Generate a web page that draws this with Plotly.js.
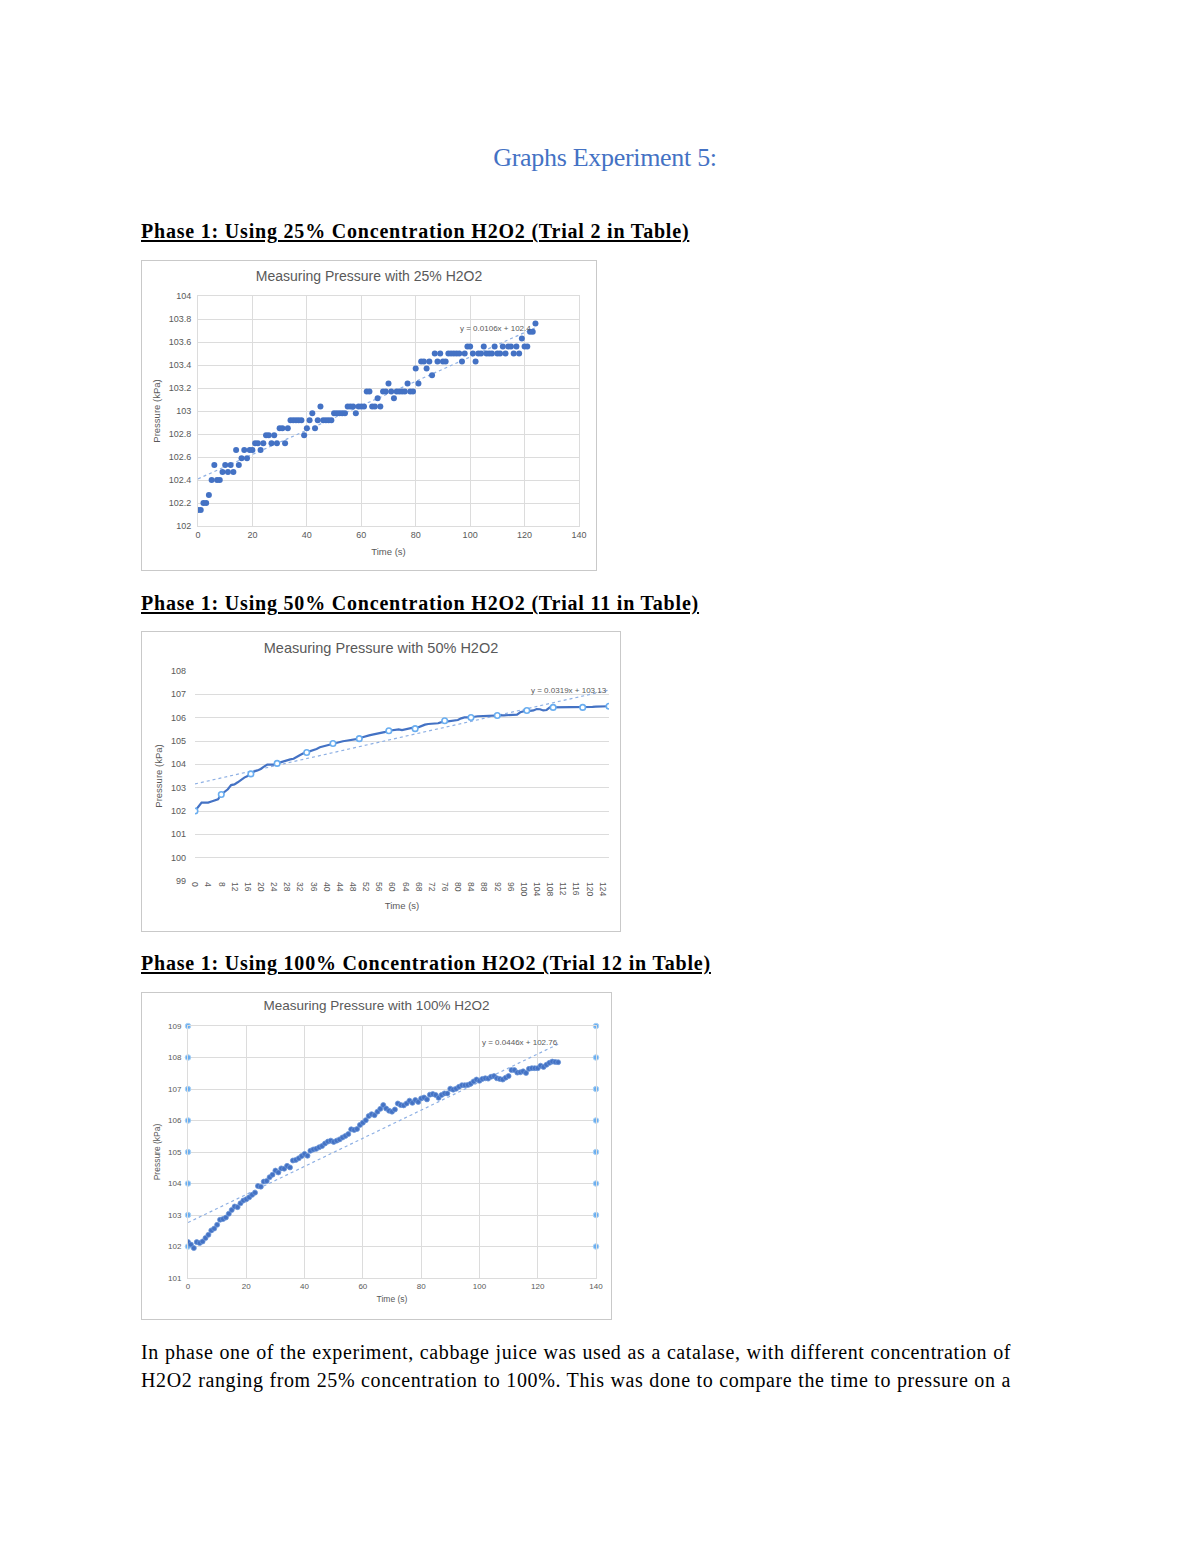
<!DOCTYPE html>
<html>
<head>
<meta charset="utf-8">
<script src="https://cdn.plot.ly/plotly-3.0.1.min.js"></script>
<style>
  html, body { margin: 0; padding: 0; background: #fff; }
  body { width: 1200px; height: 1553px; position: relative; overflow: hidden; }
  .doc { position: absolute; font-family: 'Liberation Serif', 'Times New Roman', serif; color: #000; white-space: nowrap; }
  .title { left: 0; width: 1210px; top: 143px; text-align: center; font-size: 26px; color: #4472c4; letter-spacing: -0.3px; }
  .phase { left: 141px; font-size: 20px; font-weight: bold; text-decoration: underline; text-decoration-thickness: 2px; text-underline-offset: 2px; letter-spacing: 0.8px; }
  .line { left: 141px; width: 870px; font-size: 20px; letter-spacing: 0.6px; text-align: justify; text-align-last: justify; }
  .chart { position: absolute; outline: 1px solid #c9c9c9; outline-offset: -1px; }
</style>
</head>
<body>

<div class="doc title">Graphs Experiment 5:</div>

<div class="doc phase" style="top:220px">Phase 1: Using 25% Concentration H2O2 (Trial 2 in Table)</div>
<div id="chart25" class="chart" style="left:141px; top:260px; width:456px; height:311px"></div>

<div class="doc phase" style="top:592px">Phase 1: Using 50% Concentration H2O2 (Trial 11 in Table)</div>
<div id="chart50" class="chart" style="left:141px; top:631px; width:480px; height:301px"></div>

<div class="doc phase" style="top:952px">Phase 1: Using 100% Concentration H2O2 (Trial 12 in Table)</div>
<div id="chart100" class="chart" style="left:141px; top:992px; width:471px; height:328px"></div>

<div class="doc line" style="top:1341px">In phase one of the experiment, cabbage juice was used as a catalase, with different concentration of</div>
<div class="doc line" style="top:1369px">H2O2 ranging from 25% concentration to 100%. This was done to compare the time to pressure on a</div>

<script>
// pressure readings, one per second starting at t = 0 s (kPa)
const pressure25 = [
  102.14, 102.14, 102.2, 102.2, 102.27, 102.4, 102.53, 102.4, 102.4, 102.47,
  102.53, 102.47, 102.53, 102.47, 102.66, 102.53, 102.59, 102.66, 102.59, 102.66,
  102.66, 102.72, 102.72, 102.66, 102.72, 102.79, 102.79, 102.72, 102.79, 102.72,
  102.85, 102.85, 102.72, 102.85, 102.92, 102.92, 102.92, 102.92, 102.92, 102.79,
  102.85, 102.92, 102.98, 102.85, 102.92, 103.04, 102.92, 102.92, 102.92, 102.92,
  102.98, 102.98, 102.98, 102.98, 102.98, 103.04, 103.04, 103.04, 102.98, 103.04,
  103.04, 103.04, 103.17, 103.17, 103.04, 103.04, 103.11, 103.04, 103.17, 103.17,
  103.24, 103.17, 103.11, 103.17, 103.17, 103.17, 103.17, 103.24, 103.17, 103.17,
  103.37, 103.24, 103.43, 103.43, 103.37, 103.43, 103.31, 103.5, 103.43, 103.5,
  103.43, 103.43, 103.5, 103.5, 103.5, 103.5, 103.5, 103.43, 103.5, 103.56,
  103.56, 103.5, 103.43, 103.5, 103.5, 103.56, 103.5, 103.5, 103.5, 103.56,
  103.5, 103.5, 103.56, 103.5, 103.56, 103.56, 103.5, 103.56, 103.5, 103.63,
  103.56, 103.56, 103.69, 103.69, 103.76
];

const pressure50 = [
  102.0, 102.19, 102.36, 102.36, 102.36, 102.41, 102.47, 102.5, 102.71, 102.83,
  102.93, 103.11, 103.14, 103.23, 103.34, 103.43, 103.5, 103.59, 103.69, 103.74,
  103.8, 103.9, 103.99, 103.99, 103.99, 104.04, 104.09, 104.11, 104.17, 104.21,
  104.24, 104.33, 104.4, 104.47, 104.51, 104.57, 104.61, 104.66, 104.73, 104.77,
  104.8, 104.84, 104.89, 104.93, 104.96, 104.99, 105.01, 105.03, 105.04, 105.07,
  105.1, 105.16, 105.21, 105.24, 105.27, 105.3, 105.31, 105.33, 105.39, 105.44,
  105.46, 105.49, 105.5, 105.47, 105.5, 105.53, 105.56, 105.53, 105.59, 105.66,
  105.7, 105.73, 105.74, 105.74, 105.76, 105.81, 105.87, 105.84, 105.87, 105.9,
  105.9, 105.97, 106.01, 106.01, 106.01, 106.04, 106.06, 106.07, 106.07, 106.09,
  106.09, 106.09, 106.09, 106.1, 106.1, 106.11, 106.11, 106.13, 106.13, 106.23,
  106.27, 106.31, 106.29, 106.31, 106.37, 106.36, 106.31, 106.33, 106.44, 106.44,
  106.44, 106.46, 106.44, 106.46, 106.44, 106.46, 106.44, 106.43, 106.44, 106.46,
  106.44, 106.46, 106.47, 106.47, 106.47, 106.47, 106.49
];
// points that carry a visible marker on the 50% line
const markerIdx50 = [0, 8, 17, 25, 34, 42, 50, 59, 67, 76, 84, 92, 101, 109, 118, 126];
const tickVals50 = [0, 4, 8, 12, 16, 20, 24, 28, 32, 36, 40, 44, 48, 52, 56, 60, 64,
  68, 72, 76, 80, 84, 88, 92, 96, 100, 104, 108, 112, 116, 120, 124];

const pressure100 = [
  102.14, 102.06, 101.95, 102.14, 102.11, 102.16, 102.27, 102.37, 102.51, 102.57,
  102.69, 102.85, 102.87, 102.92, 103.04, 103.16, 103.27, 103.25, 103.37, 103.46,
  103.5, 103.56, 103.64, 103.71, 103.92, 103.9, 104.06, 104.08, 104.2, 104.28,
  104.41, 104.35, 104.48, 104.47, 104.56, 104.51, 104.73, 104.75, 104.8, 104.87,
  104.94, 104.88, 105.04, 105.08, 105.1, 105.15, 105.19, 105.27, 105.33, 105.36,
  105.32, 105.36, 105.4, 105.46, 105.51, 105.57, 105.72, 105.7, 105.73, 105.86,
  105.93, 106.01, 106.14, 106.2, 106.17, 106.28, 106.37, 106.49, 106.38, 106.31,
  106.28, 106.35, 106.54, 106.49, 106.48, 106.54, 106.63, 106.56, 106.65, 106.59,
  106.7, 106.73, 106.67, 106.82, 106.84, 106.81, 106.72, 106.81, 106.86, 106.86,
  107.01, 106.98, 107.01, 107.07, 107.12, 107.12, 107.13, 107.17, 107.24, 107.3,
  107.26, 107.32, 107.34, 107.33, 107.39, 107.41, 107.34, 107.32, 107.3, 107.36,
  107.41, 107.6, 107.6, 107.52, 107.53, 107.56, 107.51, 107.64, 107.66, 107.66,
  107.66, 107.74, 107.7, 107.77, 107.83, 107.87, 107.86, 107.85
];
// stray second series sitting on both edges of the 100% chart
const edgeTimes100 = [0, 140];
const edgeLevels100 = [102, 103, 104, 105, 106, 107, 108, 109];

// linear trendlines as printed on the charts
const trend25 = { slope: 0.0106, intercept: 102.41, label: 'y = 0.0106x + 102.4' };
const trend50 = { slope: 0.0319, intercept: 103.13, label: 'y = 0.0319x + 103.13' };
const trend100 = { slope: 0.0446, intercept: 102.76, label: 'y = 0.0446x + 102.76' };

const DOT_BLUE = '#4472c4';
const LIGHT_BLUE = '#6aaef0';
const TREND = '#8eb0e4';
const GRID = '#dcdcdc';
const TEXT = '#595959';
const SANS = "'Liberation Sans', Arial, Helvetica, sans-serif";

const CONFIG = { staticPlot: true, displayModeBar: false };

function baseLayout(w, h, title, titleSize, titlePad, margin) {
  return {
    width: w,
    height: h,
    paper_bgcolor: 'rgba(0,0,0,0)',
    plot_bgcolor: '#fff',
    font: { family: SANS, color: TEXT, size: 9 },
    margin,
    showlegend: false,
    title: {
      text: title,
      font: { size: titleSize, color: TEXT, family: SANS },
      x: 0.5, xanchor: 'center', y: 1, yanchor: 'top', pad: { t: titlePad },
      yref: 'container'
    }
  };
}

function trendTrace(trend, x0, x1, offset = 0) {
  return {
    type: 'scatter', mode: 'lines', hoverinfo: 'skip',
    x: [x0, x1],
    y: [x0, x1].map(x => trend.slope * (x + offset) + trend.intercept),
    line: { color: TREND, width: 1.2, dash: 'dot' }
  };
}

function trendNote(trend, x, y) {
  return {
    text: trend.label, x, y, xref: 'x', yref: 'y',
    xanchor: 'right', yanchor: 'middle', showarrow: false,
    font: { size: 8, color: TEXT, family: SANS }
  };
}

// ---- 25% ----
(function () {
  const traces = [
    trendTrace(trend25, 0, pressure25.length - 1),
    {
      type: 'scatter', mode: 'markers',
      y: pressure25, x0: 0, dx: 1,
      marker: { color: DOT_BLUE, size: 6, line: { width: 0 } }
    }
  ];
  const layout = baseLayout(456, 311, 'Measuring Pressure with 25% H2O2', 14, 11,
    { l: 57, r: 18, t: 36, b: 45 });
  layout.xaxis = {
    range: [0, 140], dtick: 20, tick0: 0, showgrid: true, gridcolor: GRID,
    zeroline: false, showline: true, mirror: true, linecolor: GRID,
    ticks: '', tickfont: { size: 9, color: TEXT },
    title: { text: 'Time (s)', font: { size: 9.5, color: TEXT }, standoff: 9 }
  };
  layout.yaxis = {
    range: [102, 104], dtick: 0.2, tick0: 102, showgrid: true, gridcolor: GRID,
    zeroline: false, showline: true, mirror: true, linecolor: GRID,
    ticks: '', ticklabelstandoff: 4, tickfont: { size: 9, color: TEXT },
    title: { text: 'Pressure (kPa)', font: { size: 9.5, color: TEXT }, standoff: 6 }
  };
  layout.annotations = [trendNote(trend25, 123, 103.72)];
  Plotly.newPlot('chart25', traces, layout, CONFIG);
})();

// ---- 50% ----
(function () {
  const last = pressure50.length - 1;
  const traces = [
    trendTrace(trend50, 0, last, 1),
    {
      type: 'scatter', mode: 'lines',
      y: pressure50, x0: 0, dx: 1,
      line: { color: DOT_BLUE, width: 2.2 }
    },
    {
      type: 'scatter', mode: 'markers',
      x: markerIdx50, y: markerIdx50.map(i => pressure50[i]),
      marker: { color: '#fff', size: 5.5, line: { color: LIGHT_BLUE, width: 1.6 } }
    }
  ];
  const layout = baseLayout(480, 301, 'Measuring Pressure with 50% H2O2', 14.5, 12,
    { l: 54, r: 12, t: 40, b: 51 });
  layout.xaxis = {
    range: [0, last], tickmode: 'array', tickvals: tickVals50, ticktext: tickVals50.map(String),
    tickangle: 90, showgrid: false, zeroline: false, showline: false,
    ticks: '', tickfont: { size: 8.5, color: TEXT },
    title: { text: 'Time (s)', font: { size: 9.5, color: TEXT }, standoff: 6 }
  };
  layout.yaxis = {
    range: [99, 108], dtick: 1, tick0: 99, showgrid: true, gridcolor: GRID,
    zeroline: false, showline: false,
    ticks: '', ticklabelstandoff: 8, tickfont: { size: 9, color: TEXT },
    title: { text: 'Pressure (kPa)', font: { size: 9.5, color: TEXT }, standoff: 6 }
  };
  layout.annotations = [trendNote(trend50, last, 107.15)];
  Plotly.newPlot('chart50', traces, layout, CONFIG);
})();

// ---- 100% ----
(function () {
  const edgeX = [];
  const edgeY = [];
  edgeTimes100.forEach(t => edgeLevels100.forEach(v => { edgeX.push(t); edgeY.push(v); }));
  const traces = [
    trendTrace(trend100, 0, pressure100.length - 1),
    {
      type: 'scatter', mode: 'markers', cliponaxis: false,
      x: edgeX, y: edgeY,
      marker: { color: LIGHT_BLUE, size: 5.5, line: { color: '#a9d2f7', width: 1 } }
    },
    {
      type: 'scatter', mode: 'markers',
      y: pressure100, x0: 0, dx: 1,
      marker: { color: DOT_BLUE, size: 5, line: { color: '#6b95d8', width: 0.8 } }
    }
  ];
  const layout = baseLayout(471, 328, 'Measuring Pressure with 100% H2O2', 13.5, 9,
    { l: 47, r: 16, t: 34, b: 42 });
  layout.xaxis = {
    range: [0, 140], dtick: 20, tick0: 0, showgrid: true, gridcolor: GRID,
    zeroline: false, showline: true, mirror: true, linecolor: GRID,
    ticks: '', tickfont: { size: 8, color: TEXT },
    title: { text: 'Time (s)', font: { size: 8.5, color: TEXT }, standoff: 6 }
  };
  layout.yaxis = {
    range: [101, 109], dtick: 1, tick0: 101, showgrid: true, gridcolor: GRID,
    zeroline: false, showline: true, mirror: true, linecolor: GRID,
    ticks: '', ticklabelstandoff: 4, tickfont: { size: 8, color: TEXT },
    title: { text: 'Pressure (kPa)', font: { size: 8.5, color: TEXT }, standoff: 6 }
  };
  layout.annotations = [trendNote(trend100, 127.5, 108.48)];
  Plotly.newPlot('chart100', traces, layout, CONFIG);
})();
</script>
</body>
</html>
